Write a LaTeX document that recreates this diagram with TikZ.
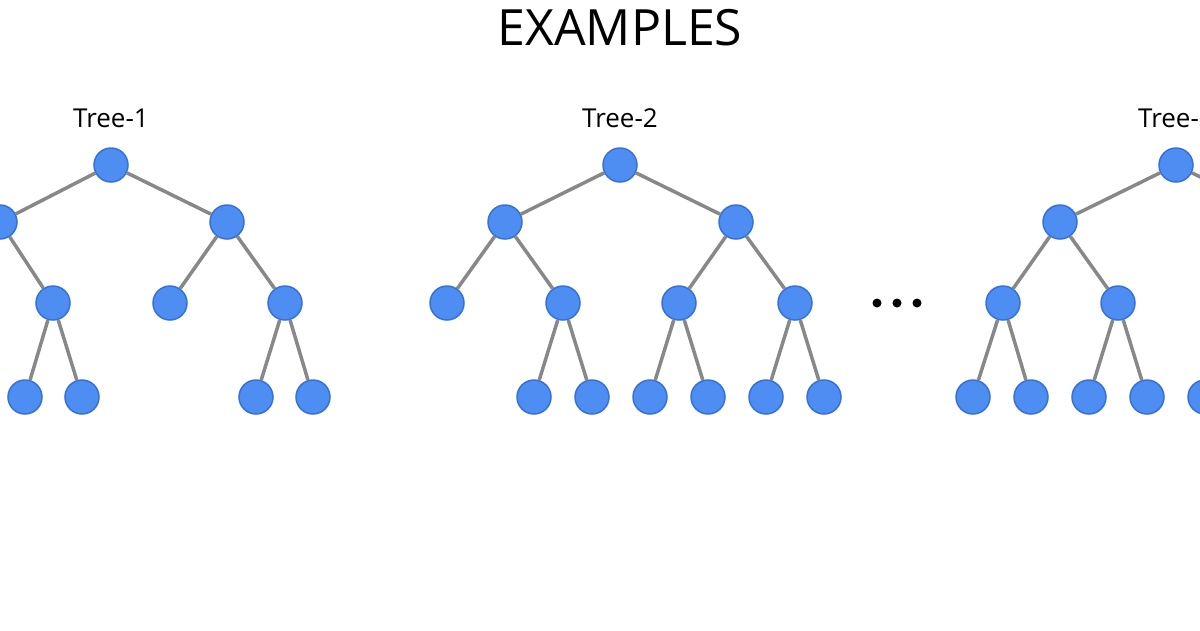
\documentclass[tikz,border=0pt]{standalone}
\usepackage{fontspec}
\setmainfont{Open Sans}
\tikzset{
  vtx/.style={circle,fill={rgb,255:red,78;green,141;blue,242},draw={rgb,255:red,55;green,113;blue,214},line width=1.5pt,minimum size=34pt,inner sep=0pt},
  edg/.style={draw={rgb,255:red,136;green,136;blue,136},line width=3.5pt},
  lbl/.style={font=\fontsize{26}{30}\selectfont},
  dot/.style={circle,fill=black,minimum size=9pt,inner sep=0pt}
}
\begin{document}
\begin{tikzpicture}[x=1pt,y=-1pt]
\useasboundingbox (0,0) rectangle (1200,630);

% Title
\node (title) at (620,28) {\fontsize{50}{56}\selectfont EXAMPLES};

% Tree 1
\node[lbl] (l1) at (111,118) {Tree-1};
\node[vtx] (a0) at (111,165) {};
\node[vtx] (a1) at (0,222) {};
\node[vtx] (a2) at (227,222) {};
\node[vtx] (a3) at (53,303) {};
\node[vtx] (a4) at (170,303) {};
\node[vtx] (a5) at (285,303) {};
\node[vtx] (a6) at (25,397) {};
\node[vtx] (a7) at (82,397) {};
\node[vtx] (a8) at (256,397) {};
\node[vtx] (a9) at (313,397) {};

% Tree 2
\node[lbl] (l2) at (620,118) {Tree-2};
\node[vtx] (b0) at (620,165) {};
\node[vtx] (b1) at (505,222) {};
\node[vtx] (b2) at (736,222) {};
\node[vtx] (b3) at (447,303) {};
\node[vtx] (b4) at (563,303) {};
\node[vtx] (b5) at (679,303) {};
\node[vtx] (b6) at (795,303) {};
\node[vtx] (b7) at (534,397) {};
\node[vtx] (b8) at (592,397) {};
\node[vtx] (b9) at (650,397) {};
\node[vtx] (b10) at (708,397) {};
\node[vtx] (b11) at (766,397) {};
\node[vtx] (b12) at (824,397) {};

% dots
\foreach \i/\x in {1/877,2/897,3/917}
  \node[dot] (d\i) at (\x,303) {};

% Tree 3
\node[lbl] (l3) at (1176,118) {Tree-3};
\node[vtx] (c0) at (1176,165) {};
\node[vtx] (c1) at (1060,222) {};
\node[vtx] (c2) at (1292,222) {};
\node[vtx] (c3) at (1003,303) {};
\node[vtx] (c4) at (1118,303) {};
\node[vtx] (c5) at (1234,303) {};
\node[vtx] (c6) at (973,397) {};
\node[vtx] (c7) at (1031,397) {};
\node[vtx] (c8) at (1089,397) {};
\node[vtx] (c9) at (1147,397) {};
\node[vtx] (c10) at (1205,397) {};

% Edges
\foreach \p/\c in {a0/a1,a0/a2,a1/a3,a2/a4,a2/a5,a3/a6,a3/a7,a5/a8,a5/a9,
  b0/b1,b0/b2,b1/b3,b1/b4,b2/b5,b2/b6,b4/b7,b4/b8,b5/b9,b5/b10,b6/b11,b6/b12,
  c0/c1,c0/c2,c1/c3,c1/c4,c2/c5,c3/c6,c3/c7,c4/c8,c4/c9,c5/c10}
  \path[edg] (\p) -- (\c);
\end{tikzpicture}
\end{document}
